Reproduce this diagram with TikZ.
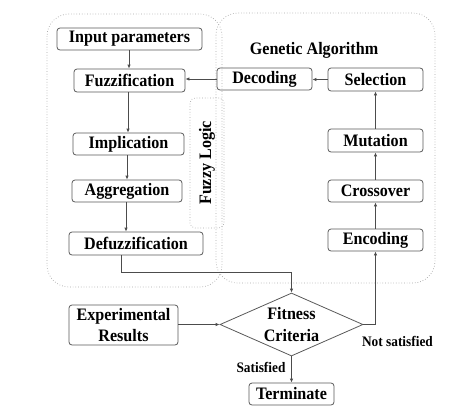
\documentclass[tikz,border=0pt]{standalone}
\usepackage{fontspec}
\setmainfont{Liberation Serif}[FakeStretch=0.92]
\usetikzlibrary{shapes.geometric,arrows.meta}
\begin{document}
\begin{tikzpicture}[x=1pt,y=-1pt,
  txt/.style={font=\bfseries\fontsize{17.5}{18}\selectfont},
  box/.style={txt,draw=black!65,line width=0.8pt,rounded corners=3pt,inner sep=0pt},
  grp/.style={draw=black!35,dotted,line width=0.7pt,rounded corners=22pt},
  conn/.style={draw=black!70,line width=0.8pt,-{Latex[length=4pt,width=3.5pt]}},
  lbl/.style={font=\bfseries\fontsize{14.5}{15}\selectfont}]
\useasboundingbox (0,0) rectangle (474,410);
% groups
\draw[grp] (47,14) rectangle (222,287);
\draw[grp] (216,13) rectangle (435,283);
\node[draw=black!35,dotted,line width=0.7pt,rounded corners=5pt,minimum width=34pt,minimum height=130pt] (fl) at (207,163) {};
\node[rotate=90,txt] (fltxt) at (207,163) {Fuzzy Logic};
\node[txt] (ga) at (314,50) {Genetic Algorithm};
% left nodes
\node[box,minimum width=145pt,minimum height=22pt] (inp) at (129.5,39) {Input parameters};
\node[box,minimum width=111pt,minimum height=23pt] (fuz) at (129.5,80.5) {Fuzzification};
\node[box,minimum width=111pt,minimum height=22pt] (imp) at (128.5,144) {Implication};
\node[box,minimum width=110pt,minimum height=22pt] (agg) at (127,191) {Aggregation};
\node[box,minimum width=134pt,minimum height=23pt] (def) at (136,243.5) {Defuzzification};
% right nodes
\node[box,minimum width=95pt,minimum height=22pt] (dec) at (264.5,79) {Decoding};
\node[box,minimum width=95pt,minimum height=23pt] (sel) at (375.5,79.5) {Selection};
\node[box,minimum width=95pt,minimum height=23pt] (mut) at (375.5,140.5) {Mutation};
\node[box,minimum width=95pt,minimum height=22pt] (cro) at (375.5,191) {Crossover};
\node[box,minimum width=95pt,minimum height=22pt] (enc) at (375.5,240) {Encoding};
% bottom
\node[box,minimum width=109pt,minimum height=40pt,align=center] (exp) at (123.5,325) {Experimental\\[3pt]Results};
\node[txt,draw=black!65,line width=0.8pt,diamond,aspect=2.27,minimum width=143pt,minimum height=63pt,inner sep=0pt,align=center] (fit) at (291.5,324.5) {Fitness\\[4pt]Criteria};
\node[box,minimum width=85pt,minimum height=22pt] (ter) at (291.5,394) {Terminate};
% connectors
\draw[conn] (inp.south -| 129,0) -- (fuz.north -| 129,0);
\draw[conn] (fuz.south -| 128,0) -- (imp.north -| 128,0);
\draw[conn] (imp.south -| 127,0) -- (agg.north -| 127,0);
\draw[conn] (agg.south -| 126,0) -- (def.north -| 126,0);
\coordinate (c1) at (121,272);
\draw[conn] (def.south -| c1) -- (c1) -| (fit.north);
\draw[conn] (dec.west) -- (fuz.east |- dec.west);
\draw[conn] (sel.west) -- (dec.east |- sel.west);
\draw[conn] (enc.north) -- (cro.south);
\draw[conn] (cro.north) -- (mut.south);
\draw[conn] (mut.north) -- (sel.south);
\draw[conn] (fit.east) -| (enc.south);
\draw[conn] (exp.east |- fit.west) -- (fit.west);
\draw[conn] (fit.south) -- (ter.north);
\node[lbl,anchor=east] (sat) at (289,367) {Satisfied};
\node[lbl] (nsat) at (397.5,341) {Not satisfied};
\end{tikzpicture}
\end{document}
